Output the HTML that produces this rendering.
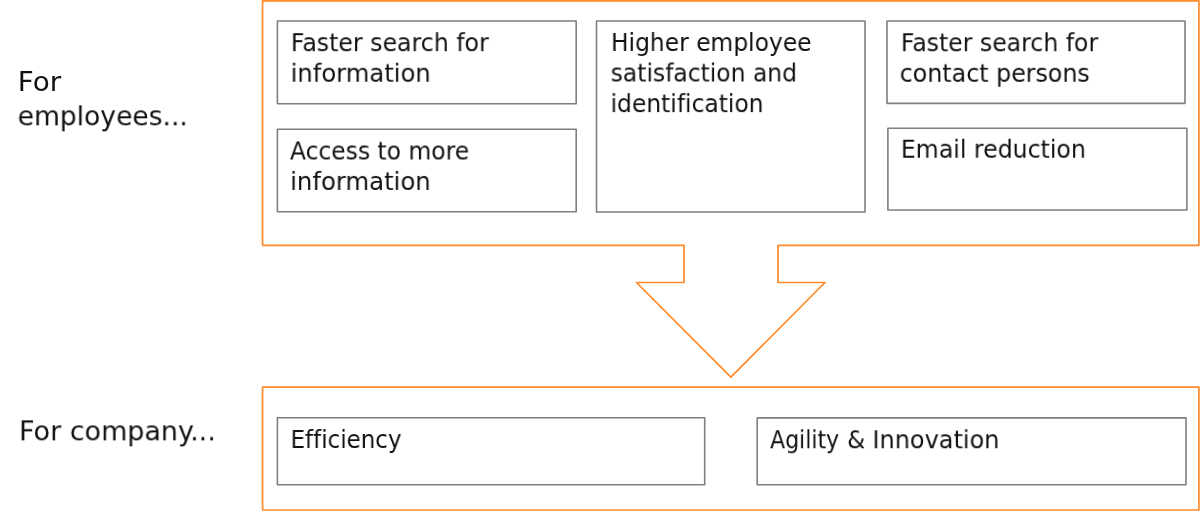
<!DOCTYPE html>
<html lang="en"><head><meta charset="utf-8"><title>Benefits</title>
<style>
html,body{margin:0;padding:0;background:#fff}
body{width:1200px;height:511px;position:relative;overflow:hidden;font-family:"DejaVu Sans","Liberation Sans",sans-serif;color:#111;font-variant-ligatures:none;font-kerning:normal}
svg{position:absolute;left:0;top:0}
section,h2,.box{position:absolute;margin:0;padding:0;width:0;height:0;font-weight:normal;font-size:24.7px}
.t{position:absolute;will-change:transform;white-space:nowrap;line-height:normal;transform-origin:0 0;font-size:24.7px}
.lab{font-size:27.1px}
</style></head><body>
<svg width="1200" height="511" viewBox="0 0 1200 511">
<path d="M684 245.3 L262.55 245.3 L262.55 0.85 L1198.9 0.85 L1198.9 245.3 L778 245.3 L778 282.5 L825.0 282.5 L730.9 377.1 L636.5 282.5 L684 282.5 Z" fill="none" stroke="#ff8a2b" stroke-width="1.7" stroke-linejoin="round"/>
<rect x="262.55" y="387.2" width="936.35" height="122.8" fill="none" stroke="#ff8a2b" stroke-width="1.7" stroke-linejoin="round"/>
<rect x="277.4" y="21" width="298.8" height="82.7" fill="none" stroke="#7f7f7f" stroke-width="1.6" stroke-linejoin="round"/>
<rect x="277.4" y="129.3" width="298.8" height="82.4" fill="none" stroke="#7f7f7f" stroke-width="1.6" stroke-linejoin="round"/>
<rect x="596.5" y="21" width="268.5" height="191" fill="none" stroke="#7f7f7f" stroke-width="1.6" stroke-linejoin="round"/>
<rect x="887" y="21" width="298" height="82.4" fill="none" stroke="#7f7f7f" stroke-width="1.6" stroke-linejoin="round"/>
<rect x="887.9" y="128.3" width="299.0" height="81.7" fill="none" stroke="#7f7f7f" stroke-width="1.6" stroke-linejoin="round"/>
<rect x="277.4" y="417.8" width="427.3" height="67.0" fill="none" stroke="#7f7f7f" stroke-width="1.6" stroke-linejoin="round"/>
<rect x="757.2" y="417.9" width="428.8" height="66.9" fill="none" stroke="#7f7f7f" stroke-width="1.6" stroke-linejoin="round"/>
</svg>
<section class="row employees" style="left:0px;top:0px">
 <h2 class="label" style="left:10px;top:60px">
  <span id="l1" class="t lab" style="left:7px;top:5px;transform:translate(0.76px,0.60px) scaleX(1.0255)">For</span>
  <span id="l2" class="t lab" style="left:7px;top:40px;transform:translate(0.63px,0.30px) scaleX(0.9801)">employees...</span>
 </h2>
 <div class="box" style="left:278px;top:21px">
  <span id="a1" class="t" style="left:12px;top:7px;transform:translate(0.86px,0.15px) scaleX(0.9579)">Faster search for</span>
  <span id="a2" class="t" style="left:12px;top:37px;transform:translate(0.65px,0.75px) scaleX(0.9834)">information</span>
 </div>
 <div class="box" style="left:278px;top:129px">
  <span id="b1" class="t" style="left:11px;top:7px;transform:translate(0.93px,0.50px) scaleX(0.9484)">Access to more</span>
  <span id="b2" class="t" style="left:12px;top:37px;transform:translate(0.19px,0.90px) scaleX(0.9865)">information</span>
 </div>
 <div class="box" style="left:597px;top:21px">
  <span id="c1" class="t" style="left:13px;top:7px;transform:translate(0.96px,0.00px) scaleX(0.9472)">Higher employee</span>
  <span id="c2" class="t" style="left:13px;top:37px;transform:translate(0.68px,0.50px) scaleX(0.9486)">satisfaction and</span>
  <span id="c3" class="t" style="left:13px;top:68px;transform:translate(0.60px,0.10px) scaleX(0.9472)">identification</span>
 </div>
 <div class="box" style="left:887px;top:21px">
  <span id="d1" class="t" style="left:13px;top:7px;transform:translate(0.87px,0.25px) scaleX(0.9547)">Faster search for</span>
  <span id="d2" class="t" style="left:12px;top:37px;transform:translate(0.68px,0.80px) scaleX(0.9617)">contact persons</span>
 </div>
 <div class="box" style="left:888px;top:128px">
  <span id="e1" class="t" style="left:12px;top:6px;transform:translate(0.85px,0.70px) scaleX(0.9569)">Email reduction</span>
 </div>
</section>
<section class="row company" style="left:0px;top:387px">
 <h2 class="label" style="left:10px;top:23px">
  <span id="l3" class="t lab" style="left:9px;top:5px;transform:translate(0.07px,0.35px) scaleX(0.9948)">For company...</span>
 </h2>
 <div class="box" style="left:278px;top:31px">
  <span id="f1" class="t" style="left:12px;top:7px;transform:translate(0.55px,0.00px) scaleX(0.9299)">Efficiency</span>
 </div>
 <div class="box" style="left:757px;top:31px">
  <span id="g1" class="t" style="left:13px;top:7px;transform:translate(0.05px,0.20px) scaleX(0.8920)">Agility</span>
  <span id="g2" class="t" style="left:90px;top:7px;transform:translate(0.19px,0.20px) scaleX(0.9356)">&amp;</span>
  <span id="g3" class="t" style="left:115px;top:7px;transform:translate(0.46px,0.20px) scaleX(0.9712)">Innovation</span>
 </div>
</section>
</body></html>
